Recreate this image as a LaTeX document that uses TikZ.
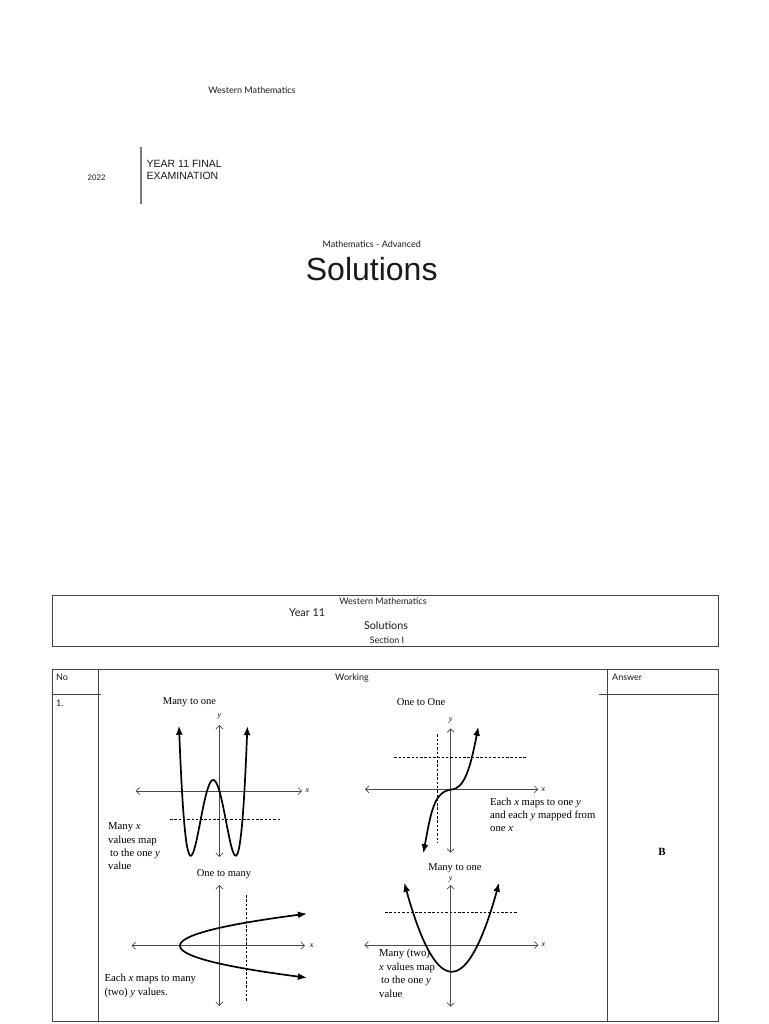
\documentclass[tikz,border=0pt]{standalone}
\usepackage{fontspec}
\setmainfont{Liberation Serif}
\newfontfamily\latofont{Lato}
\newfontfamily\arialfont{Liberation Sans}
\usetikzlibrary{positioning,arrows.meta}
\definecolor{rulegray}{HTML}{444444}
\definecolor{bargray}{HTML}{7A7A7A}
\definecolor{axisgray}{HTML}{4A4A4A}
\definecolor{ink}{HTML}{1A1A1A}

\begin{document}
\begin{tikzpicture}[x=1pt,y=-1pt,
  latotext/.style={inner sep=0pt,text=ink,font=\latofont\fontsize{9}{11}\selectfont},
  latobig/.style={inner sep=0pt,text=ink,font=\latofont\fontsize{10.8}{12}\selectfont},
  arialtext/.style={inner sep=0pt,text=ink,align=left,font=\arialfont\fontsize{10.5}{12.7}\selectfont},
  graphtitle/.style={inner sep=0pt,font=\fontsize{10.5}{12}\selectfont},
  graphnote/.style={inner sep=0pt,anchor=north west,align=left,font=\fontsize{10.7}{13.4}\selectfont},
  axlabel/.style={inner sep=0pt,font=\fontsize{8}{9}\selectfont\itshape},
  tableline/.style={draw=rulegray,line width=0.9pt},
  axis/.style={draw=axisgray,line width=0.7pt,{Straight Barb[length=3.5pt,width=7pt]}-{Straight Barb[length=3.5pt,width=7pt]}},
  dashline/.style={draw=black,line width=0.9pt,dash pattern=on 2.5pt off 1.8pt},
  curve/.style={draw=black,line width=1.7pt,{Latex[length=9pt,width=7pt]}-{Latex[length=9pt,width=7pt]}}
]
\useasboundingbox (0,0) rectangle (768,1024);

% cover page
\node[latotext] (school) at (252,90.5) {Western Mathematics};
\node[inner sep=0pt,text=ink,anchor=west,font=\arialfont\fontsize{8}{9}\selectfont] (year) at (87.5,177.3) {2022};
\draw[bargray,line width=1.6pt] (141,147.5) -- (141,204);
\node[arialtext,anchor=north west] (exam) at (146.5,159.8) {YEAR 11 FINAL\\EXAMINATION};
\node[latotext] (course) at (371.7,244) {Mathematics - Advanced};
\node[inner sep=0pt,text=ink,font=\arialfont\fontsize{32}{36}\selectfont] (title) at (371.7,269.5) {Solutions};

% section heading box
\draw[tableline] (52,595) rectangle (718,646);
\node[latotext] (secschool) at (383,601.5) {Western Mathematics};
\node[latobig,anchor=west] (secyear) at (289,613) {Year 11};
\node[latobig] (secsol) at (386,626) {Solutions};
\node[latotext] (secname) at (387,640) {Section I};

% answer table
\draw[tableline] (52,669.5) rectangle (718,1021.5);
\draw[tableline] (98,669.5) -- (98,1021.5);
\draw[tableline] (607,669.5) -- (607,1021.5);
\draw[tableline] (52,694) -- (101,694);
\draw[tableline] (599,694) -- (718,694);
\node[latotext,anchor=west] (colno) at (56,677.5) {No};
\node[latotext] (colwork) at (352,677.5) {Working};
\node[latotext,anchor=west] (colans) at (612,677.5) {Answer};
\node[latotext,anchor=west] (qnum) at (56,703.5) {1.};
\node[inner sep=0pt,font=\fontsize{11}{12}\selectfont\bfseries] (ans) at (662,852) {B};

% many to one (quartic)
\node[graphtitle] (quartitle) at (189.5,702) {Many to one};
\draw[axis] (135.7,791) -- (302,791);
\draw[axis] (219.3,857) -- (219.3,725);
\node[axlabel] (quarx) at (307.5,791) {x};
\node[axlabel] (quary) at (219.3,717) {y};
\draw[dashline] (170,819.3) -- (280.7,819.3);
\draw[curve] plot[domain=-1.52:1.52,samples=90,smooth] ({213.2+22.5*\x},{855.7-75.7*(\x*\x-1)^2});
\node[graphnote] (quarnote) at (108,822.5) {Many \textit{x}\\values map\\\hspace{2pt}to the one \textit{y}\\value};

% one to one (cubic)
\node[graphtitle] (cubetitle) at (421,702) {One to One};
\draw[axis] (365,789.3) -- (538.3,789.3);
\draw[axis] (450.7,852.7) -- (450.7,728.3);
\node[axlabel] (cubex) at (543.5,789.3) {x};
\node[axlabel] (cubey) at (450.7,720.5) {y};
\draw[dashline] (394.3,757.7) -- (525.7,757.7);
\draw[dashline] (437.3,734.3) -- (437.3,843.3);
\draw[curve] (423.3,853.3) .. controls (431,812) and (434,791) .. (452,789.5) .. controls (464,788) and (470,770) .. (478.3,726.7);
\node[graphnote] (cubenote) at (490,797.5) {Each \textit{x} maps to one \textit{y}\\and each \textit{y} mapped from\\one \textit{x}};

% one to many (sideways parabola)
\node[graphtitle] (sidetitle) at (224,874) {One to many};
\draw[axis] (131.7,945.7) -- (305,945.7);
\draw[axis] (219.3,1006) -- (219.3,885);
\node[axlabel] (sidex) at (311.7,945.7) {x};
\draw[dashline] (246.7,895) -- (246.7,1001.7);
\draw[curve] plot[domain=-32:32,samples=80,smooth] ({180+0.124*\x*\x},{945.7+\x});
\node[graphnote] (sidenote) at (104.3,974) {Each \textit{x} maps to many\\(two) \textit{y} values.};

% many to one (parabola)
\node[graphtitle] (paratitle) at (455,868.5) {Many to one};
\node[axlabel] (paray) at (450.7,879.8) {y};
\draw[axis] (364.3,945) -- (538.3,945);
\draw[axis] (450.7,1006.7) -- (450.7,885);
\node[axlabel] (parax) at (543.5,945) {x};
\draw[dashline] (385,912.3) -- (516.7,912.3);
\draw[curve] plot[domain=-47.4:47.4,samples=80,smooth] ({451.7+\x},{971.7-0.0396*\x*\x});
\node[graphnote] (paranote) at (379,949.3) {Many (two)\\\textit{x} values map\\\hspace{2pt}to the one \textit{y}\\value};
\end{tikzpicture}
\end{document}
